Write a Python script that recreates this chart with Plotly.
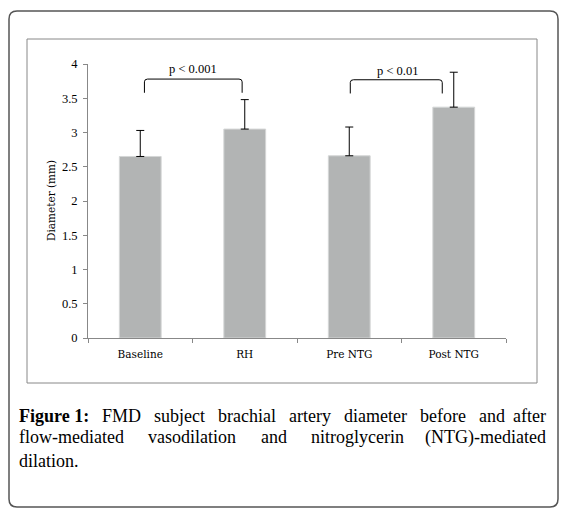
import plotly.graph_objects as go

# data
groups = ["Baseline", "RH", "Pre NTG", "Post NTG"]
diameter = [2.65, 3.05, 2.66, 3.37]
err_up = [0.38, 0.43, 0.42, 0.51]
y_ticks = [0, 0.5, 1, 1.5, 2, 2.5, 3, 3.5, 4]
y_ticktext = ["0", "0.5", "1", "1.5", "2", "2.5", "3", "3.5", "4"]
p_labels = ["p < 0.001", "p < 0.01"]

# page body has an 8px margin, so the figure sits at (8, 8) in the window
OFF = 8
W, H = 567 - 2 * OFF, 519 - 2 * OFF
L, R, T, B = 88, 506, 64, 338   # plot area, window pixels


def px(x):
    return (x - L) / (R - L)


def py(y):
    return (B - y) / (B - T)


serif = "Liberation Serif"
wide_serif = "DejaVu Serif"

fig = go.Figure()
fig.add_trace(go.Bar(
    x=groups, y=diameter,
    marker=dict(color="#b2b4b4", line=dict(color="#d4d6d6", width=1)),
    error_y=dict(type="data", symmetric=False, array=err_up,
                 arrayminus=[0] * len(err_up),
                 color="black", thickness=1, width=4),
    hoverinfo="x+y",
))

fig.update_layout(
    width=W, height=H,
    margin=dict(l=L - OFF, r=W - (R - OFF), t=T - OFF, b=H - (B - OFF)),
    paper_bgcolor="white", plot_bgcolor="white",
    showlegend=False, bargap=0.6,
    font=dict(family=serif, color="black"),
)
fig.update_xaxes(
    showline=True, linecolor="#888888", linewidth=1,
    ticks="outside", tickson="boundaries", ticklen=4, tickcolor="#888888",
    tickfont=dict(size=10.5, family=wide_serif), ticklabelstandoff=6,
    showgrid=False,
)
fig.update_yaxes(
    range=[0, 4], tickvals=y_ticks, ticktext=y_ticktext,
    showline=True, linecolor="#888888", linewidth=1,
    ticks="outside", ticklen=4, tickcolor="#888888",
    tickfont=dict(size=12.5), ticklabelstandoff=3, showgrid=False,
    zeroline=False,
)

shapes = [
    # outer rounded frame
    dict(type="path", xref="paper", yref="paper",
         path="M {a},{b} L {c},{b} Q {d},{b} {d},{e} L {d},{f} Q {d},{g} {c},{g} "
              "L {a},{g} Q {h},{g} {h},{f} L {h},{e} Q {h},{b} {a},{b} Z".format(
                  a=px(17), c=px(550), d=px(558), h=px(9),
                  b=py(11), e=py(19), f=py(499), g=py(507)),
         line=dict(color="#555555", width=1.5)),
    # inner chart frame
    dict(type="rect", xref="paper", yref="paper",
         x0=px(27), x1=px(537), y0=py(39), y1=py(383),
         line=dict(color="#888888", width=1)),
]

# significance brackets
brackets = [(0.04, 0.975, 3.78, 3.58), (2.01, 2.89, 3.77, 3.57)]
for x0, x1, ytop, ybot in brackets:
    shapes.append(dict(
        type="path", xref="x", yref="y",
        path=f"M {x0},{ybot} L {x0},{ytop - 0.04} Q {x0},{ytop} {x0 + 0.03},{ytop} "
             f"L {x1 - 0.03},{ytop} Q {x1},{ytop} {x1},{ytop - 0.04} L {x1},{ybot}",
        line=dict(color="black", width=1)))
fig.update_layout(shapes=shapes)

annotations = [
    dict(x=0.5, y=3.93, xref="x", yref="y", text=p_labels[0], showarrow=False,
         font=dict(size=12.5)),
    dict(x=2.46, y=3.90, xref="x", yref="y", text=p_labels[1], showarrow=False,
         font=dict(size=12.5)),
    dict(x=px(51), y=py(201), xref="paper", yref="paper", text="Diameter (mm)",
         textangle=-90, xanchor="center", yanchor="middle", showarrow=False,
         font=dict(size=10.5, family=wide_serif)),
]

# caption, justified word by word (x, text, anchor)
caption = [
    (416, [(17, "<b>Figure 1:</b>", "left"), (100, "FMD", "left"),
           (152, "subject", "left"), (216, "brachial", "left"),
           (287, "artery", "left"), (342, "diameter", "left"),
           (418, "before", "left"), (477, "and", "left"), (548, "after", "right")]),
    (437, [(17, "flow-mediated", "left"), (146, "vasodilation", "left"),
           (259, "and", "left"), (309, "nitroglycerin", "left"),
           (548, "(NTG)-mediated", "right")]),
    (461, [(17, "dilation.", "left")]),
]
for yline, words in caption:
    for xw, w, anchor in words:
        annotations.append(dict(
            x=px(xw), y=py(yline), xref="paper", yref="paper", text=w,
            xanchor=anchor, yanchor="middle", showarrow=False,
            font=dict(size=18, family=serif)))
fig.update_layout(annotations=annotations)

fig.write_html("out.html")
